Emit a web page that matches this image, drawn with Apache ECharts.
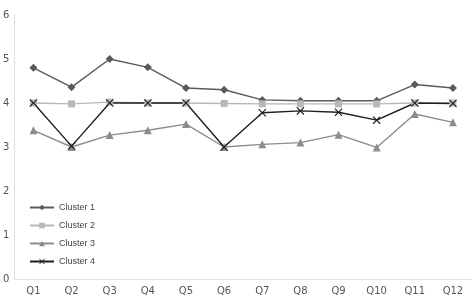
<!DOCTYPE html>
<html><head><meta charset="utf-8">
<script src="https://cdn.jsdelivr.net/npm/echarts@6/dist/echarts.min.js"></script>
<style>html,body{margin:0;padding:0;background:#fff}#c{width:474px;height:299px}</style>
</head><body><div id="c"></div>
<script>
const categories = ['Q1','Q2','Q3','Q4','Q5','Q6','Q7','Q8','Q9','Q10','Q11','Q12'];
const cluster1 = [4.8, 4.36, 5.0, 4.81, 4.34, 4.3, 4.07, 4.05, 4.05, 4.05, 4.42, 4.34];
const cluster2 = [4.0, 3.98, 4.02, 4.0, 4.0, 3.99, 3.98, 3.98, 3.98, 3.98, 4.0, 4.0];
const cluster3 = [3.38, 3.0, 3.27, 3.38, 3.52, 3.0, 3.06, 3.1, 3.28, 2.99, 3.75, 3.56];
const cluster4 = [4.0, 3.02, 4.0, 4.0, 4.0, 3.0, 3.78, 3.82, 3.79, 3.61, 4.0, 3.99];
const yTicks = [0,1,2,3,4,5,6];

const xPath = 'path://M0,1L1,0L5,4L9,0L10,1L6,5L10,9L9,10L5,6L1,10L0,9L4,5Z';
const chart = echarts.init(document.getElementById('c'));
function s(name, data, color, symbol, size, width) {
  return {name, type:'line', data, symbol, symbolSize:size, color,
    lineStyle:{color, width:width}, itemStyle:{color}, animation:false};
}
chart.setOption({
  animation:false,
  grid:{left:14, right:2, top:15, bottom:20},
  xAxis:{type:'category', data:categories, boundaryGap:true,
    axisLine:{lineStyle:{color:'#e0e0e0'}}, axisTick:{show:false},
    axisLabel:{color:'#555', fontSize:10, fontFamily:'DejaVu Sans', margin:7}},
  yAxis:{type:'value', min:yTicks[0], max:yTicks[yTicks.length-1], interval:1,
    axisLine:{show:true, lineStyle:{color:'#e0e0e0'}}, axisTick:{show:false}, splitLine:{show:false},
    axisLabel:{color:'#555', fontSize:10, fontFamily:'DejaVu Sans', margin:5}},
  legend:{orient:'vertical', left:24, top:198, itemWidth:24, itemHeight:7, itemGap:9,
    textStyle:{color:'#444', fontSize:9, fontFamily:'Liberation Sans'},
    data:['Cluster 1','Cluster 2','Cluster 3','Cluster 4']},
  series:[
    s('Cluster 1', cluster1, '#5a5a5a', 'diamond', 8, 1.4),
    s('Cluster 2', cluster2, '#b8b8b8', 'rect', 7, 1.4),
    s('Cluster 3', cluster3, '#8c8c8c', 'triangle', 8, 1.4),
    s('Cluster 4', cluster4, '#1e1e1e', xPath, 8, 1.4)
  ]
});
</script></body></html>
